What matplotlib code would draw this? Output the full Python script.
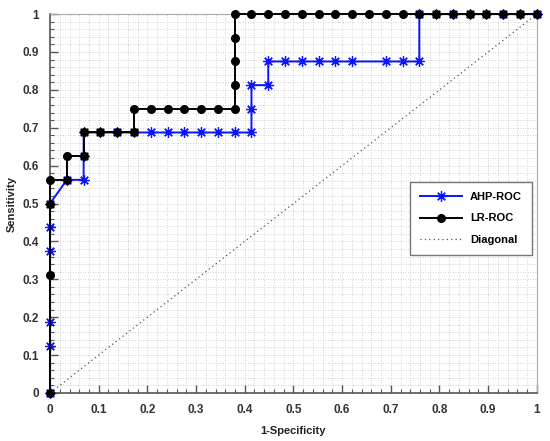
import numpy as np
import matplotlib
matplotlib.use("Agg")
import matplotlib.pyplot as plt
from matplotlib.ticker import MultipleLocator

plt.rcParams['font.family'] = ['Liberation Sans', 'DejaVu Sans']

# --- ROC data (counts of 29 negatives / 16 positives) ---
n_neg = 29
n_pos = 16

ahp_fp = [0, 0, 0, 0, 0, 0, 1, 2, 2, 2, 3, 4, 5, 6, 7, 8, 9, 10, 11, 12, 12, 12,
          13, 13, 14, 15, 16, 17, 18, 20, 21, 22, 22, 23, 24, 25, 26, 27, 28, 29]
ahp_tp = [0, 2, 3, 6, 7, 8, 9, 9, 10, 11, 11, 11, 11, 11, 11, 11, 11, 11, 11, 11, 12, 13,
          13, 14, 14, 14, 14, 14, 14, 14, 14, 14, 16, 16, 16, 16, 16, 16, 16, 16]

lr_fp = [0, 0, 0, 0, 1, 1, 2, 2, 3, 4, 5, 5, 6, 7, 8, 9, 10, 11, 11, 11, 11, 11,
         12, 13, 14, 15, 16, 17, 18, 19, 20, 21, 22, 23, 24, 25, 26, 27, 28, 29]
lr_tp = [0, 5, 8, 9, 9, 10, 10, 11, 11, 11, 11, 12, 12, 12, 12, 12, 12, 12, 13, 14, 15, 16,
         16, 16, 16, 16, 16, 16, 16, 16, 16, 16, 16, 16, 16, 16, 16, 16, 16, 16]

diag = [0, 1]
ticks = [0, 0.1, 0.2, 0.3, 0.4, 0.5, 0.6, 0.7, 0.8, 0.9, 1]
tick_labels = ['0', '0.1', '0.2', '0.3', '0.4', '0.5', '0.6', '0.7', '0.8', '0.9', '1']

ahp_x = np.array(ahp_fp) / n_neg
ahp_y = np.array(ahp_tp) / n_pos
lr_x = np.array(lr_fp) / n_neg
lr_y = np.array(lr_tp) / n_pos

fig = plt.figure(figsize=(5.5, 4.41), dpi=100)
ax = fig.add_axes([0.091, 0.109, 0.885, 0.859])

# dotted background grid
ax.xaxis.set_minor_locator(MultipleLocator(0.02))
ax.yaxis.set_minor_locator(MultipleLocator(0.02))
ax.grid(True, which='both', linestyle=(0, (1, 2)), color='#c4c4c4', linewidth=0.6)
ax.set_axisbelow(True)

# asterisk marker like the original
asterisk = (8, 2, 0)
ax.plot(ahp_x, ahp_y, color='#0a14ff', linewidth=1.4, marker=asterisk,
        markersize=7.5, markeredgewidth=0.9, label='AHP-ROC', zorder=3, clip_on=False)
ax.plot(lr_x, lr_y, color='black', linewidth=1.4, marker='o',
        markersize=5.5, label='LR-ROC', zorder=4, clip_on=False)
ax.plot(diag, diag, color='#555555', linestyle=(0, (1, 2.5)), linewidth=0.9,
        label='Diagonal', zorder=2)

ax.set_xlim(0, 1)
ax.set_ylim(0, 1)
ax.set_xticks(ticks)
ax.set_yticks(ticks)
ax.set_xticklabels(tick_labels)
ax.set_yticklabels(tick_labels)

for lbl in ax.get_xticklabels() + ax.get_yticklabels():
    lbl.set_fontweight('bold')
    lbl.set_color('#333333')
    lbl.set_fontsize(8.5)

ax.tick_params(which='both', direction='in', top=False, right=False, color='#555555')
ax.tick_params(which='major', length=6, width=1, pad=8)
ax.tick_params(which='minor', length=3, width=0.8)

for side in ['top', 'right']:
    ax.spines[side].set_color('#aaaaaa')
for side in ['bottom', 'left']:
    ax.spines[side].set_color('#555555')
    ax.spines[side].set_linewidth(1.2)

ax.set_xlabel('1-Specificity', fontweight='bold', fontsize=8, color='#222222', labelpad=7)
ax.set_ylabel('Sensitivity', fontweight='bold', fontsize=8, color='#222222', labelpad=4)

leg = ax.legend(loc='upper left', bbox_to_anchor=(0.739, 0.556), fancybox=False,
                framealpha=1, edgecolor='#777777',
                prop={'weight': 'bold', 'size': 8}, handlelength=3.8,
                borderpad=0.9, labelspacing=1.0, handletextpad=0.7, borderaxespad=0)
leg.get_frame().set_linewidth(1.0)

fig.savefig('out.png', dpi=100)
